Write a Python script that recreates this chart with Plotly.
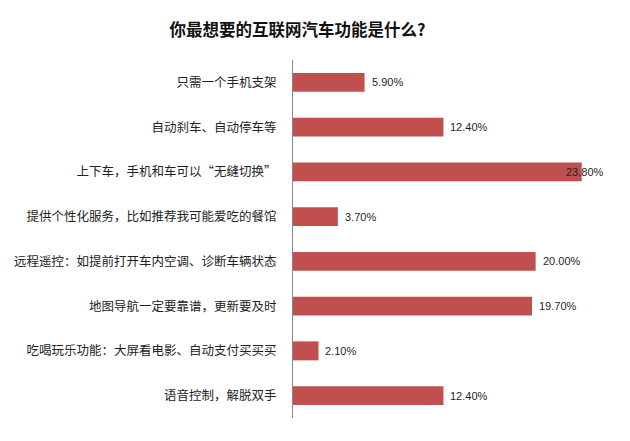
import plotly.graph_objects as go

title_text = "你最想要的互联网汽车功能是什么?"
categories = [
    "只需一个手机支架",
    "自动刹车、自动停车等",
    "上下车，手机和车可以“无缝切换”",
    "提供个性化服务，比如推荐我可能爱吃的餐馆",
    "远程遥控：如提前打开车内空调、诊断车辆状态",
    "地图导航一定要靠谱，更新要及时",
    "吃喝玩乐功能：大屏看电影、自动支付买买买",
    "语音控制，解脱双手",
]
values = [5.9, 12.4, 23.8, 3.7, 20.0, 19.7, 2.1, 12.4]
value_labels = [f"{v:.2f}%" for v in values]

bar_color = "#C0504D"
x_max = 25.8

fig = go.Figure()
fig.add_trace(go.Bar(
    x=values,
    y=categories,
    orientation="h",
    marker=dict(color=bar_color, line=dict(width=0)),
    hoverinfo="skip",
))

# value labels: outside the bar end, pulled back inside the plot if they would not fit
label_width_units = 3.3  # approx width of a label in data units
for cat, v, txt in zip(categories, values, value_labels):
    if v + label_width_units + 0.6 > x_max:
        fig.add_annotation(x=1, xref="paper", y=cat, yref="y", text=txt,
                           showarrow=False, xanchor="right", yanchor="middle",
                           font=dict(family="Liberation Sans, Arial", size=11, color="#1f1f1f"))
    else:
        fig.add_annotation(x=v, xref="x", y=cat, yref="y", text=txt,
                           showarrow=False, xanchor="left", yanchor="middle", xshift=5,
                           font=dict(family="Liberation Sans, Arial", size=11, color="#1f1f1f"))

fig.update_layout(
    width=630, height=441,
    margin=dict(l=293, r=24, t=60, b=23, pad=0),
    paper_bgcolor="white",
    plot_bgcolor="white",
    showlegend=False,
    bargap=0.576,
    title=dict(
        text=title_text,
        x=297.5 / 630, xref="container", xanchor="center",
        y=1 - 30 / 441, yref="container", yanchor="middle",
        font=dict(family="Noto Sans CJK SC", size=16.5, color="#111111", weight="bold"),
    ),
    xaxis=dict(range=[0, x_max], visible=False, fixedrange=True, automargin=False),
    yaxis=dict(
        autorange="reversed", automargin=False, fixedrange=True,
        showline=True, linecolor="#868686", linewidth=1,
        ticks="", showgrid=False, zeroline=False,
        ticklabelstandoff=13,
        tickfont=dict(family="Noto Sans CJK SC", size=12.5, color="#222222"),
    ),
)

fig.write_html("out.html", config={"displayModeBar": False},
               post_script="document.body.style.margin='0';")
